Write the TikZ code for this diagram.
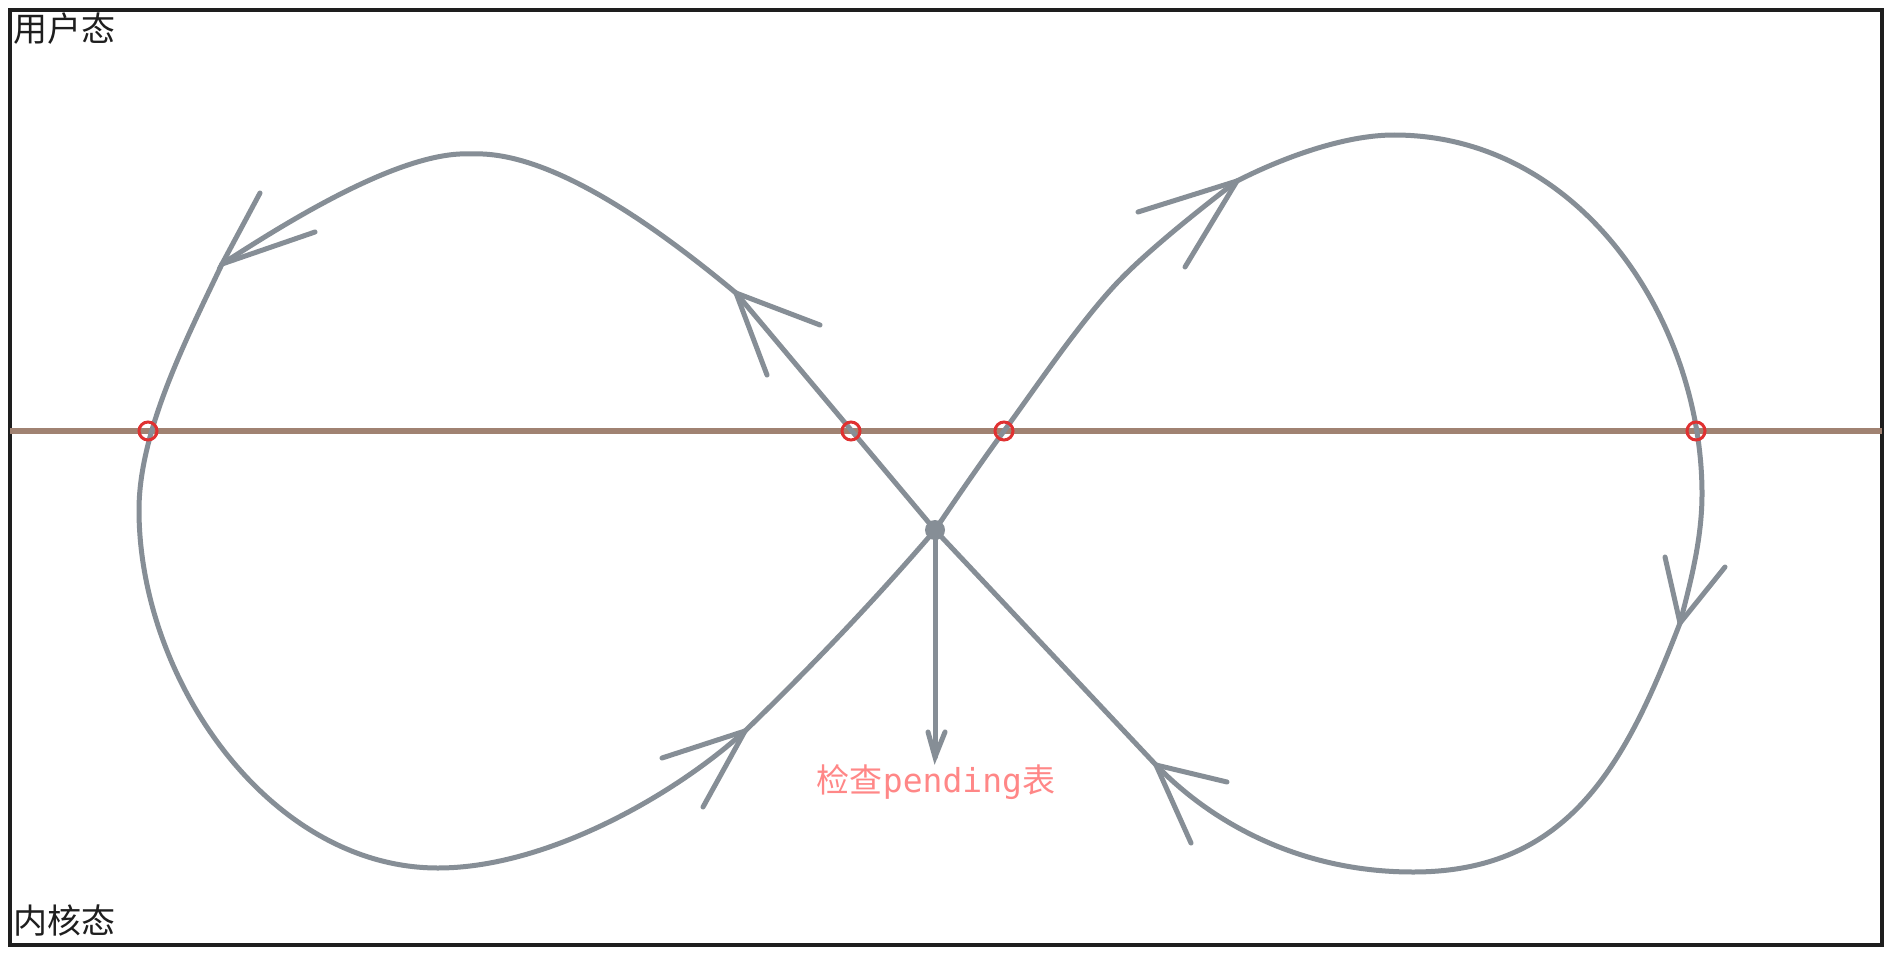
\documentclass[tikz,border=0pt]{standalone}
\usepackage{fontspec}
\newfontfamily\cjk{Noto Sans CJK SC}
\newfontfamily\latinmono{DejaVu Sans Mono}
\definecolor{cgray}{HTML}{868E96}
\definecolor{cred}{HTML}{E03131}
\definecolor{cbrown}{HTML}{A08272}
\definecolor{cframe}{HTML}{1E1E1E}
\definecolor{cpink}{HTML}{FF8787}
\begin{document}
\begin{tikzpicture}[x=1pt,y=-1pt,
  loopline/.style={draw=cgray,line width=5pt,line cap=round,line join=round},
  barbline/.style={draw=cgray,line width=5pt,line cap=round},
  redring/.style={circle,draw=cred,line width=3pt,minimum size=18pt,inner sep=0pt},
  cornertext/.style={font=\cjk\fontsize{34}{34}\selectfont,text=cframe,inner sep=0pt,anchor=base west},
  labeltext/.style={font=\cjk\fontsize{33}{33}\selectfont,text=cpink,inner sep=0pt,anchor=base}
]
\useasboundingbox (0,0) rectangle (1892,955);
\fill[white] (0,0) rectangle (1892,955);
% frame
\draw[cframe,line width=4.5pt] (10,10) rectangle (1882,945);
% key points
\coordinate (C) at (935,530);
\coordinate (x1) at (148,431);
\coordinate (x2) at (851,431);
\coordinate (x3) at (1004,431);
\coordinate (x4) at (1696,431);
\coordinate (A1) at (736,293);
\coordinate (A2) at (222,264);
\coordinate (A3) at (745,731);
\coordinate (A4) at (1237,181);
\coordinate (A5) at (1680,623);
\coordinate (A6) at (1156,765);
\coordinate (T1) at (471,154);
\coordinate (L1) at (139,510);
\coordinate (B1) at (438,868);
\coordinate (T2) at (1394,135);
\coordinate (R2) at (1702,494);
\coordinate (B2) at (1413,872);
\coordinate (V) at (935,757);
\coordinate (hl) at (10,431);
\coordinate (hr) at (1882,431);
% boundary line
\draw[cbrown,line width=6pt] (hl) -- (hr);
% left loop
\draw[loopline] (C) -- (A1);
\draw[loopline] (A1) .. controls (659,229) and (551,150) .. (T1)
                     .. controls (400,150) and (281,226) .. (A2);
\draw[loopline] (A2) .. controls (188,336) and (139,430) .. (L1)
                     .. controls (139,680) and (270,868) .. (B1)
                     .. controls (545,868) and (672,797) .. (A3);
\draw[loopline] (A3) .. controls (810,668) and (875,600) .. (C);
% right loop
\draw[loopline] plot[smooth,tension=0.6] coordinates {(C) (x3) (1116,284) (A4)};
\draw[loopline] (A4) .. controls (1282,158) and (1344,135) .. (T2)
                     .. controls (1580,135) and (1702,320) .. (R2)
                     .. controls (1702,540) and (1690,584) .. (A5);
\draw[loopline] (A5) .. controls (1626,763) and (1570,872) .. (B2)
                     .. controls (1300,872) and (1212,823) .. (A6);
\draw[loopline] (A6) -- (C);
% arrow barbs
\draw[barbline] (820,325) -- (A1) -- (767,375);
\draw[barbline] (260,193) -- (A2) -- (315,232);
\draw[barbline] (662,758) -- (A3) -- (703,807);
\draw[barbline] (1138,212) -- (A4) -- (1185,267);
\draw[barbline] (1665,557) -- (A5) -- (1725,567);
\draw[barbline] (1227,782) -- (A6) -- (1191,843);
% vertical arrow
\draw[barbline] (C) -- (V);
\draw[barbline] (928,732) -- (V) -- (945,732);
% markers
\node[redring] (r1) at (x1) {};
\node[redring] (r2) at (x2) {};
\node[redring] (r3) at (x3) {};
\node[redring] (r4) at (x4) {};
\fill[cgray] (C) circle (10pt);
% texts
\node[cornertext] (user) at (13,42) {用户态};
\node[cornertext] (kernel) at (13,933) {内核态};
\node[labeltext] (lbl) at (936,792) {检查{\latinmono pending}表};
\end{tikzpicture}
\end{document}
